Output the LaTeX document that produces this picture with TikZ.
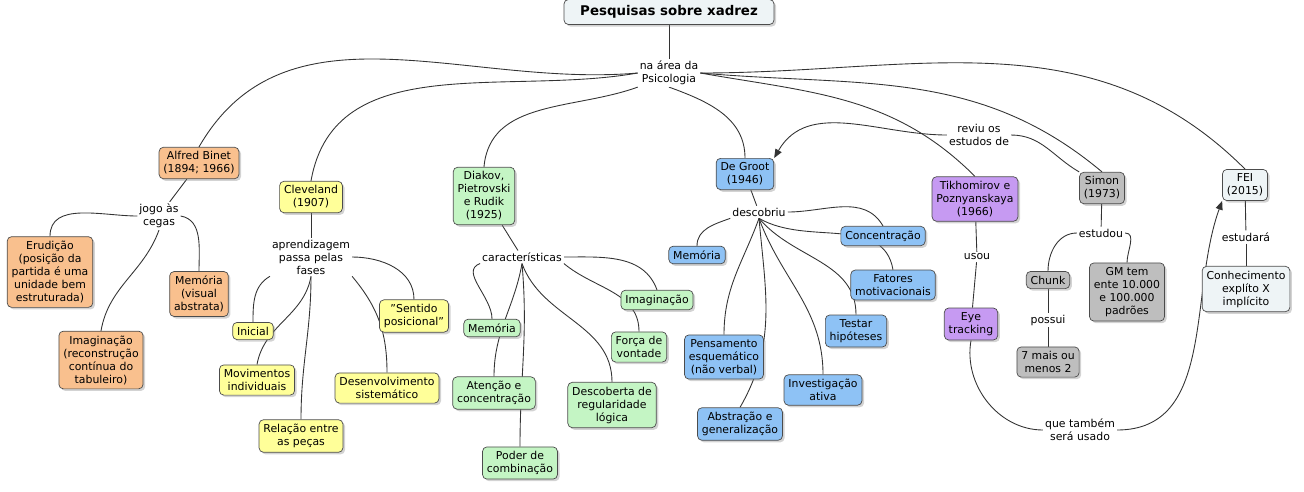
\documentclass[tikz,border=0pt]{standalone}
\usepackage{fontspec}
\setmainfont{DejaVu Sans}
\usetikzlibrary{shadows,arrows.meta,backgrounds}
\definecolor{cor}{HTML}{F9C08E}
\definecolor{cye}{HTML}{FFFF99}
\definecolor{cgr}{HTML}{C4F5C4}
\definecolor{cbl}{HTML}{8EC2F5}
\definecolor{cpu}{HTML}{C69AF2}
\definecolor{cgy}{HTML}{BEBEBE}
\definecolor{clt}{HTML}{EEF4F6}
\begin{document}
\begin{tikzpicture}[x=0.02cm,y=-0.02cm,
  font=\fontsize{6.2}{7.4}\selectfont,
  box/.style={draw=black!70,rounded corners=2.5pt,align=center,inner sep=2.5pt,drop shadow={shadow xshift=1.2pt,shadow yshift=-1.2pt,opacity=0.35}},
  lbl/.style={align=center,inner sep=1pt,fill=white},
  ln/.style={draw=black!80,line width=0.5pt},
  arr/.style={ln,-{Triangle[length=5pt,width=4pt]}}]
\useasboundingbox (0,0) rectangle (1304,491);
% title
\node[box,fill=clt,font=\fontsize{7.6}{9}\selectfont\bfseries,minimum width=4.2cm,minimum height=0.5cm] (t) at (669,12) {Pesquisas sobre xadrez};
\node[lbl] (na) at (669,73) {na área da\\Psicologia};
% nodes
\node[box,fill=cor] (bin) at (199,163) {Alfred Binet\\(1894; 1966)};
\node[lbl] (jc) at (159,216) {jogo às\\cegas};
\node[box,fill=cor] (eru) at (50,272) {Erudição\\(posição da\\partida é uma\\unidade bem\\estruturada)};
\node[box,fill=cor] (ima) at (101,360) {Imaginação\\(reconstrução\\contínua do\\tabuleiro)};
\node[box,fill=cor] (mva) at (199,294) {Memória\\(visual\\abstrata)};
\node[box,fill=cye] (cle) at (311,197) {Cleveland\\(1907)};
\node[lbl] (ap) at (311,257) {aprendizagem\\passa pelas\\fases};
\node[box,fill=cye] (ini) at (253,331) {Inicial};
\node[box,fill=cye] (mov) at (257,380) {Movimentos\\individuais};
\node[box,fill=cye] (rel) at (301,436) {Relação entre\\as peças};
\node[box,fill=cye] (sen) at (414,316) {\symbol{34}Sentido\\posicional\symbol{34}};
\node[box,fill=cye] (des) at (387,388) {Desenvolvimento\\sistemático};
\node[box,fill=cgr] (dia) at (484,196) {Diakov,\\Pietrovski\\e Rudik\\(1925)};
\node[lbl] (car) at (522,257) {características};
\node[box,fill=cgr] (mgr) at (492,328) {Memória};
\node[box,fill=cgr] (ate) at (494,393) {Atenção e\\concentração};
\node[box,fill=cgr] (pod) at (520,463) {Poder de\\combinação};
\node[box,fill=cgr] (dsc) at (612,405) {Descoberta de\\regularidade\\lógica};
\node[box,fill=cgr] (for) at (639,347) {Força de\\vontade};
\node[box,fill=cgr] (img) at (657,300) {Imaginação};
\node[box,fill=cbl] (dg) at (745,174) {De Groot\\(1946)};
\node[lbl] (dsb) at (759,212) {descobriu};
\node[box,fill=cbl] (mbl) at (697,255) {Memória};
\node[box,fill=cbl] (con) at (883,236) {Concentração};
\node[box,fill=cbl] (fat) at (893,285) {Fatores\\motivacionais};
\node[box,fill=cbl] (tes) at (856,331) {Testar\\hipóteses};
\node[box,fill=cbl] (pen) at (724,357) {Pensamento\\esquemático\\(não verbal)};
\node[box,fill=cbl] (inv) at (823,390) {Investigação\\ativa};
\node[box,fill=cbl] (abs) at (740,424) {Abstração e\\generalização};
\node[box,fill=cpu] (tik) at (975,199) {Tikhomirov e\\Poznyanskaya\\(1966)};
\node[lbl] (us) at (977,257) {usou};
\node[box,fill=cpu] (eye) at (971,324) {Eye\\tracking};
\node[box,fill=cgy] (sim) at (1102,188) {Simon\\(1973)};
\node[lbl] (rev) at (979,135) {reviu os\\estudos de};
\node[lbl] (est) at (1101,233) {estudou};
\node[box,fill=cgy] (chu) at (1048,280) {Chunk};
\node[lbl] (pos) at (1048,320) {possui};
\node[box,fill=cgy] (sete) at (1048,362) {7 mais ou\\menos 2};
\node[box,fill=cgy] (gm) at (1127,292) {GM tem\\ente 10.000\\e 100.000\\padrões};
\node[box,fill=clt] (fei) at (1245,185) {FEI\\(2015)};
\node[lbl] (estd) at (1246,237) {estudará};
\node[box,fill=clt] (cnh) at (1246,289) {Conhecimento\\explíto X\\implícito};
\node[lbl] (qt) at (1080,430) {que também\\será usado};
% connectors
\begin{scope}[on background layer]
\draw[ln] (t) -- (na);
\draw[ln] (na.west) to[out=185,in=60] (bin.north);
\draw[ln] (na.west) to[out=190,in=80] (cle.north);
\draw[ln] (na.south west) to[out=200,in=85] (dia.north);
\draw[ln] (na.south) to[out=-20,in=90] (dg.north);
\draw[ln] (na.east) to[out=-10,in=135] (tik.north);
\draw[ln] (na.east) to[out=-5,in=140] (sim.north);
\draw[ln] (na.east) to[out=0,in=135] (fei.north);
\draw[ln] (bin) -- (jc);
\draw[ln] (jc.west) to[out=180,in=90] (eru.north);
\draw[ln] (jc.south) to[out=-110,in=80] (ima.north);
\draw[ln] (jc.east) to[out=-10,in=90] (mva.north);
\draw[ln] (cle) -- (ap);
\draw[ln] (ap.south west) to[out=-150,in=90] (ini.north);
\draw[ln] (ap.south) to[out=-100,in=80] (mov.north);
\draw[ln] (ap.south) to[out=-90,in=90] (rel.north);
\draw[ln] (ap.east) to[out=0,in=90] (sen.north);
\draw[ln] (ap.south east) to[out=-50,in=90] (des.north);
\draw[ln] (dia) -- (car);
\draw[ln] (car.south west) to[out=200,in=90] (mgr.north);
\draw[ln] (car.south) to[out=-100,in=90] (ate.north);
\draw[ln] (car.south) to[out=-85,in=90] (pod.north);
\draw[ln] (car.south) to[out=-70,in=90] (dsc.north);
\draw[ln] (car.south east) to[out=-40,in=90] (for.north);
\draw[ln] (car.east) to[out=0,in=110] (img.north);
\draw[ln] (dg) -- (dsb);
\draw[ln] (dsb.south west) to[out=200,in=90] (mbl.north);
\draw[ln] (dsb.east) to[out=0,in=120] (con.north);
\draw[ln] (dsb.south) to[out=-30,in=100] (fat.north);
\draw[ln] (dsb.south) to[out=-50,in=90] (tes.north);
\draw[ln] (dsb.south) to[out=-110,in=90] (pen.north);
\draw[ln] (dsb.south) to[out=-70,in=90] (inv.north);
\draw[ln] (dsb.south) to[out=-85,in=60] (abs.north);
\draw[ln] (sim.north west) to[out=150,in=0] (rev.east);
\draw[arr] (rev.west) to[out=180,in=60] (dg.north east);
\draw[ln] (tik) -- (us);
\draw[ln] (us) -- (eye);
\draw[ln] (eye.south) to[out=-100,in=180] (qt.west);
\draw[arr] (qt.east) to[out=0,in=-110] (fei.south west);
\draw[ln] (sim) -- (est);
\draw[ln] (est.west) to[out=180,in=90] (chu.north);
\draw[ln] (est.east) to[out=0,in=90] (gm.north);
\draw[ln] (chu) -- (pos);
\draw[ln] (pos) -- (sete);
\draw[ln] (fei) -- (estd);
\draw[ln] (estd) -- (cnh);
\end{scope}
\end{tikzpicture}
\end{document}
